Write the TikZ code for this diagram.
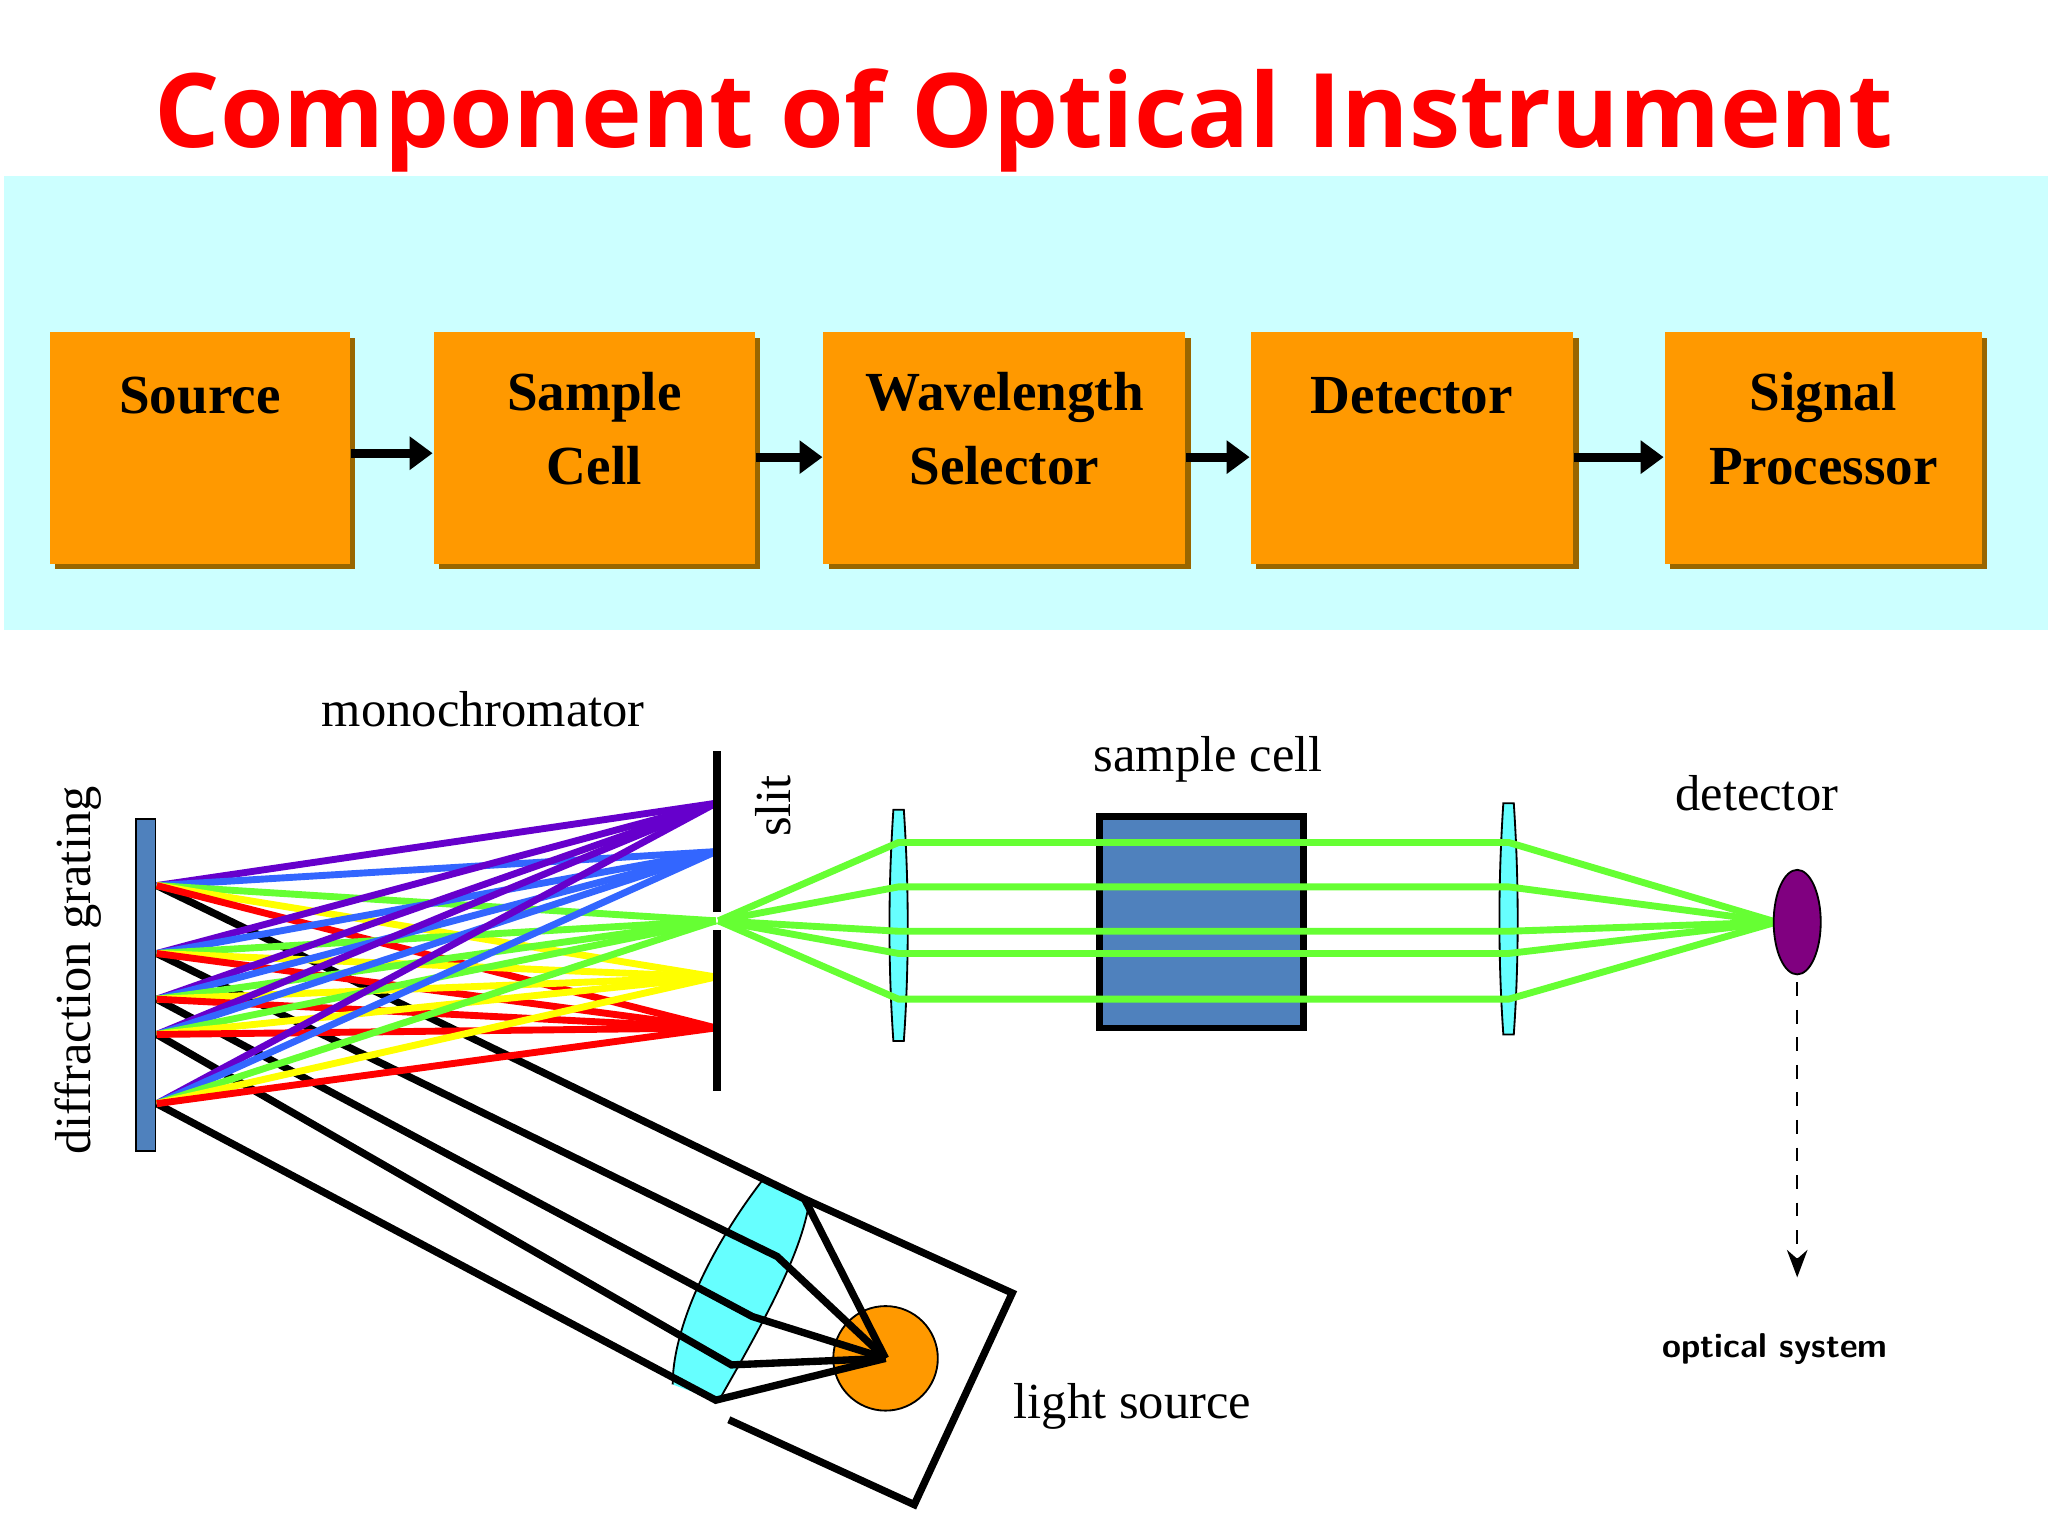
\documentclass[tikz,border=0pt]{standalone}
\usepackage{fontspec}
\setmainfont{Liberation Serif}
\newfontfamily\titlefont{Open Sans}
\usetikzlibrary{arrows.meta,shapes.geometric}
\definecolor{band}{HTML}{CCFFFF}
\definecolor{boxor}{HTML}{FF9900}
\definecolor{boxsh}{HTML}{996600}
\definecolor{steel}{HTML}{4F81BD}
\definecolor{lenscy}{HTML}{66FFFF}
\definecolor{rv}{HTML}{6600CC}
\definecolor{rb}{HTML}{3366FF}
\definecolor{rg}{HTML}{66FF33}
\definecolor{ry}{HTML}{FFFF00}
\definecolor{rr}{HTML}{FF0000}
\definecolor{purp}{HTML}{800080}
\tikzset{
  blk/.style={draw=none,fill=boxor,minimum width=#1,minimum height=1.77cm,inner sep=0pt,
    preaction={fill=boxsh,transform canvas={shift={(4,4)}}}},
  btxt/.style={font=\bfseries\fontsize{12}{16}\selectfont,align=center},
  flow/.style={line width=2pt,-{Triangle[length=5pt,width=7pt]}},
  ray/.style={line width=1.5pt},
  bray/.style={line width=1.6pt,black},
  grn/.style={line width=1.5pt,rg},
  lbl/.style={font=\fontsize{11}{13}\selectfont,inner sep=0pt},
}
\begin{document}
\begin{tikzpicture}[x=0.01cm,y=-0.01cm]
\useasboundingbox (0,0) rectangle (1568,1176);
\fill[white] (0,0) rectangle (1568,1176);
\node[text=rr,font=\titlefont\bfseries\fontsize{22.4}{26}\selectfont] (title) at (784,92) {Component of Optical Instrument};
\fill[band] (3,135) rectangle (1568,482);
% boxes
\node[blk=2.30cm] (src) at (153,343) {};
\node[blk=2.46cm] (cell) at (455,343) {};
\node[blk=2.77cm] (sel) at (769,343) {};
\node[blk=2.47cm] (det) at (1081,343) {};
\node[blk=2.43cm] (sig) at (1396,343) {};
\node[btxt] (t1) at (153,303) {Source};
\node[btxt] (t2) at (455,328) {Sample\\Cell};
\node[btxt] (t3) at (769,328) {Wavelength\\Selector};
\node[btxt] (t4) at (1081,303) {Detector};
\node[btxt] (t5) at (1396,328) {Signal\\Processor};
\draw[flow] (src.east |- 0,347) -- (cell.west |- 0,347);
\draw[flow] (cell.east |- 0,350) -- (sel.west |- 0,350);
\draw[flow] (sel.east |- 0,350) -- (det.west |- 0,350);
\draw[flow] (det.east |- 0,350) -- (sig.west |- 0,350);
% labels
\node[lbl] (mono) at (370,543) {monochromator};
\node[lbl,rotate=90] (gl) at (60,743) {diffraction grating};
\node[lbl,rotate=90] (sl) at (592,617) {slit};
\node[lbl] (scl) at (925,581) {sample cell};
\node[lbl] (dl) at (1345,607) {detector};
\node[lbl] (lsl) at (867,1077) {light source};
\node[font=\sffamily\bfseries\fontsize{7.5}{9}\selectfont] (osl) at (1359,1033) {optical system};
% grating points and slit targets
\foreach \i/\y in {1/678,2/730,3/765,4/792,5/845} \coordinate (g\i) at (120,\y);
\foreach \c/\y in {rv/615,rb/652,rg/705,ry/748,rr/787} \coordinate (s\c) at (548,\y);
% black rays
\coordinate (A) at (616,918); \coordinate (B) at (775,990);
\coordinate (C) at (700,1152); \coordinate (D) at (558,1087);
\coordinate (L1) at (595,962); \coordinate (L2) at (576,1008);
\coordinate (L3) at (560,1045); \coordinate (L4) at (548,1072);
\coordinate (lamp) at (678,1040);
% lens
\fill[lenscy] (585,902) .. controls (540,960) and (515,1020) .. (515,1060) -- (550,1073)
  .. controls (580,1020) and (615,960) .. (620,917) -- cycle;
\draw[thin] (585,902) .. controls (540,960) and (515,1020) .. (515,1060);
\draw[thin] (550,1073) .. controls (580,1020) and (615,960) .. (620,917);
\node[circle,draw,thin,fill=boxor,minimum size=0.8cm,inner sep=0pt] (lampn) at (lamp) {};
\draw[bray] (g1) -- (A) -- (B) -- (C) -- (D);
\draw[bray] (g2) -- (L1) -- (lamp);
\draw[bray] (g3) -- (L2) -- (lamp);
\draw[bray] (g4) -- (L3) -- (lamp);
\draw[bray] (g5) -- (L4) -- (lamp);
\draw[bray] (A) -- (lamp);
% coloured rays
\foreach \i in {1,...,5}{
  \foreach \c in {rv,rb,rg,ry,rr} \draw[ray,\c] (g\i) -- (s\c);
}
% grating
\node[draw,thin,fill=steel,minimum width=0.15cm,minimum height=2.54cm,inner sep=0pt] (grat) at (111.5,754) {};
% slit
\draw[line width=1.8pt] (549,575) -- (549,698);
\draw[line width=1.8pt] (549,712) -- (549,835);
% sample cell
\node[draw,line width=1.5pt,fill=steel,minimum width=1.56cm,minimum height=1.62cm,inner sep=0pt] (sc) at (920,706) {};
% lenses right
\draw[thin,fill=lenscy] (684,620) .. controls (680,680) and (680,740) .. (684,797) -- (692,797) .. controls (696,740) and (696,680) .. (692,620) -- cycle;
\draw[thin,fill=lenscy] (1151,615) .. controls (1147,675) and (1147,735) .. (1151,792) -- (1159,792) .. controls (1163,735) and (1163,675) .. (1159,615) -- cycle;
\coordinate (foc) at (550,705);
\coordinate (dpt) at (1360,706);
\foreach \y in {645,679,713,730,765}{
  \draw[grn] (foc) -- (688,\y) -- (1155,\y) -- (dpt);
}
\node[ellipse,draw,thin,fill=purp,minimum width=0.36cm,minimum height=0.8cm,inner sep=0pt] (detn) at (1376,706) {};
\draw[dashed,thin,-{Stealth[length=6pt]}] (1376,752) coordinate (ds) -- (1376,978) coordinate (de);
\end{tikzpicture}
\end{document}
